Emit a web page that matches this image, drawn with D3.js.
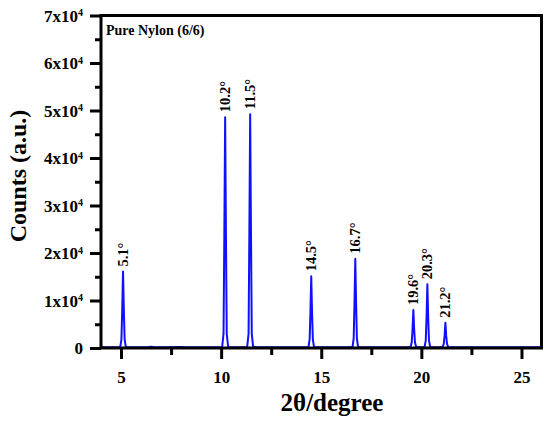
<!DOCTYPE html>
<html>
<head>
<meta charset="utf-8">
<script src="https://cdn.jsdelivr.net/npm/d3@7"></script>
<style>
  html, body { margin: 0; padding: 0; background: #fff; }
  svg text { font-family: "Liberation Serif", "Times New Roman", serif; font-weight: bold; fill: #000; }
</style>
</head>
<body>
<svg id="chart" width="550" height="423"></svg>
<script>
// ---- data ----
const twoTheta = [
  4.00, 4.60, 4.96, 5.02, 5.06, 5.10, 5.14, 5.18, 5.24, 5.80, 6.30, 6.50, 6.70, 7.20, 7.90, 8.10, 9.00, 9.80,
  10.05, 10.12, 10.16, 10.20, 10.24, 10.28, 10.35, 10.80,
  11.30, 11.37, 11.41, 11.45, 11.49, 11.53, 11.60, 12.50, 13.50,
  14.36, 14.42, 14.46, 14.50, 14.54, 14.58, 14.64, 15.50,
  16.56, 16.62, 16.66, 16.70, 16.74, 16.78, 16.84, 18.00, 19.00,
  19.46, 19.52, 19.56, 19.60, 19.64, 19.68, 19.74, 20.00,
  20.16, 20.22, 20.26, 20.30, 20.34, 20.38, 20.44, 20.80,
  21.06, 21.12, 21.16, 21.20, 21.24, 21.28, 21.34, 22.50, 24.00, 26.00
];
const counts = [
  150, 160, 200, 1800, 8000, 16100, 8000, 1800, 200, 160, 180, 260, 180, 170, 230, 200, 170, 160,
  200, 3000, 24000, 48600, 24000, 3000, 220, 180,
  220, 3000, 24500, 49200, 24500, 3000, 200, 170, 160,
  200, 1800, 7500, 15100, 7500, 1800, 200, 160,
  200, 2000, 9400, 18800, 9400, 2000, 200, 160, 170,
  200, 1200, 4000, 8000, 4000, 1200, 200, 180,
  200, 1600, 6700, 13400, 6700, 1600, 200, 180,
  200, 900, 2600, 5300, 2600, 900, 200, 160, 150, 150
];
const peakLabels = ["5.1°", "10.2°", "11.5°", "14.5°", "16.7°", "19.6°", "20.3°", "21.2°"];
const peakPos    = [5.10, 10.20, 11.45, 14.50, 16.70, 19.60, 20.30, 21.20];
const peakHeight = [16100, 48600, 49200, 15100, 18800, 8000, 13400, 5300];
const xTicks = [5, 10, 15, 20, 25];
const xMinorTicks = [7.5, 12.5, 17.5, 22.5];
const yTicks = [0, 10000, 20000, 30000, 40000, 50000, 60000, 70000];
const yTickMant = ["0", "1x10", "2x10", "3x10", "4x10", "5x10", "6x10", "7x10"];
const yMinorTicks = [5000, 15000, 25000, 35000, 45000, 55000, 65000];
const sampleName = "Pure Nylon (6/6)";
const xTitle = "2θ/degree";
const yTitle = "Counts (a.u.)";

// ---- layout ----
const L = 101, R = 541.5, T = 15.5, B = 348;
const svg = d3.select("#chart");
const x = d3.scaleLinear().domain([4, 26]).range([L, R]);
const y = d3.scaleLinear().domain([0, 70000]).range([B, T]);

// data line
const pts = twoTheta.map((t, i) => [t, counts[i]]);
svg.append("path")
  .datum(pts)
  .attr("fill", "none")
  .attr("stroke", "#1010ff")
  .attr("stroke-width", 2)
  .attr("stroke-linejoin", "round")
  .attr("d", d3.line().x(d => x(d[0])).y(d => y(d[1])));

// axes
const xAxis = svg.append("g").attr("transform", `translate(0,${B})`)
  .call(d3.axisBottom(x).tickValues(xTicks).tickSize(11).tickPadding(12).tickFormat(d3.format("d")));
const xMinor = svg.append("g").attr("transform", `translate(0,${B})`)
  .call(d3.axisBottom(x).tickValues(xMinorTicks).tickSize(7).tickFormat(""));
const yAxis = svg.append("g").attr("transform", `translate(${L},0)`)
  .call(d3.axisLeft(y).tickValues(yTicks).tickSize(11).tickPadding(6).tickFormat(""));
const yMinor = svg.append("g").attr("transform", `translate(${L},0)`)
  .call(d3.axisLeft(y).tickValues(yMinorTicks).tickSize(6).tickFormat(""));

[xAxis, xMinor, yAxis, yMinor].forEach(g => {
  g.select(".domain").remove();
  g.selectAll(".tick line").attr("stroke", "#000").attr("stroke-width", 3);
});
xAxis.selectAll(".tick text").style("font-size", "17px").attr("font-family", null);

// y tick labels with superscripts
yTicks.forEach((v, i) => {
  const t = svg.append("text")
    .attr("x", 83)
    .attr("y", y(v))
    .attr("dy", "0.36em")
    .attr("text-anchor", "end")
    .style("font-size", "17px");
  t.append("tspan").text(yTickMant[i]);
  if (i > 0) {
    t.append("tspan").attr("dy", "-0.55em").style("font-size", "10px").text("4");
  }
});

// frame
svg.append("rect")
  .attr("x", L).attr("y", T)
  .attr("width", R - L).attr("height", B - T)
  .attr("fill", "none").attr("stroke", "#000").attr("stroke-width", 3);

// peak labels
peakLabels.forEach((lab, i) => {
  const px = x(peakPos[i]), py = y(peakHeight[i]) - 5;
  svg.append("text")
    .attr("transform", `translate(${px},${py}) rotate(-90)`)
    .attr("dy", "0.35em")
    .attr("text-anchor", "start")
    .style("font-size", "14.5px")
    .text(lab);
});

// sample name
svg.append("text").attr("x", 106).attr("y", 35).style("font-size", "14px").text(sampleName);

// axis titles
svg.append("text").attr("x", 332).attr("y", 411).attr("text-anchor", "middle")
  .style("font-size", "25px").text(xTitle);
svg.append("text").attr("transform", "translate(26,176) rotate(-90)").attr("text-anchor", "middle")
  .style("font-size", "24px").text(yTitle);
</script>
</body>
</html>
